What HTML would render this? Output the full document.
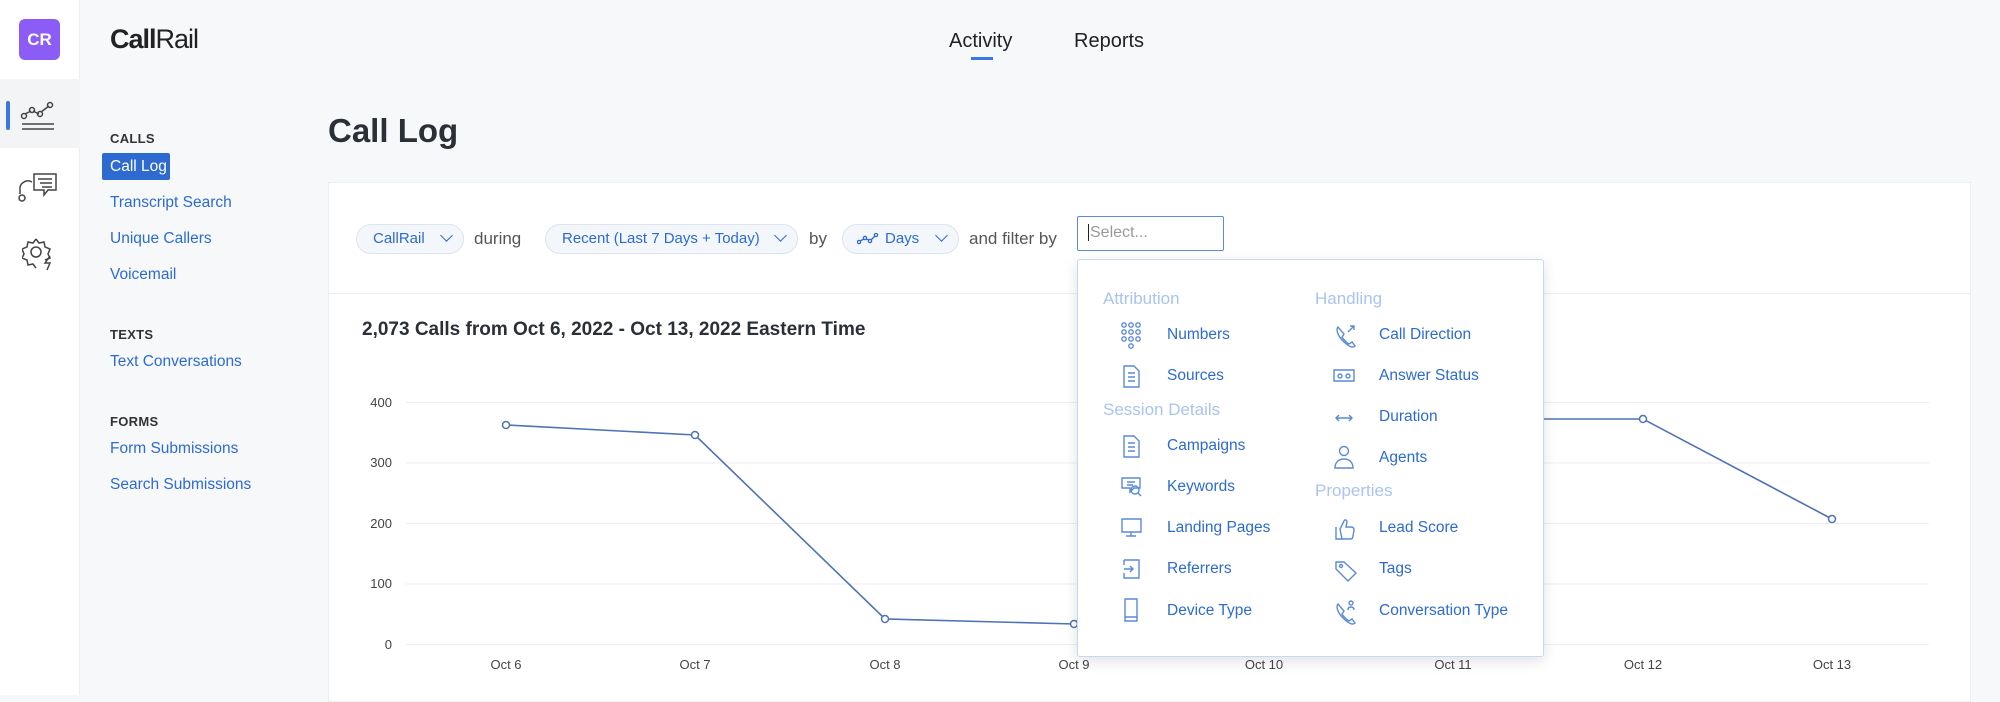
<!DOCTYPE html>
<html><head><meta charset="utf-8"><style>
*{margin:0;padding:0;box-sizing:border-box}
body{width:2000px;height:695px;overflow:hidden;background:#f7f8fa;font-family:"Liberation Sans",sans-serif;position:relative;color:#2b2f36}
.a{position:absolute;white-space:nowrap}
.nav{color:#2d6bd0;font-size:15.5px}
.sec{font-size:13px;font-weight:bold;color:#333;letter-spacing:.3px}
.pill{position:absolute;height:30px;border:1px solid #dde4ee;border-radius:15px;background:#f3f6fb;color:#2d6bd0;font-size:15px;line-height:28px;padding-left:16px}
.pill i{position:absolute;right:12px;top:6px;width:9px;height:9px;border-right:1.5px solid #2d6bd0;border-bottom:1.5px solid #2d6bd0;transform:rotate(45deg)}
.dd{color:#2d6bd0;font-size:15.5px}
.hd{color:#a9c4ee;font-size:17px}
</style></head><body>
<div class="a" style="left:0;top:0;width:80px;height:695px;background:#fff;border-right:1px solid #eceef2"></div>
<div class="a" style="left:19px;top:19px;width:41px;height:41px;background:#8b5cf6;border-radius:6px;color:#fff;font-size:17px;font-weight:bold;line-height:41px;text-align:center">CR</div>
<div class="a" style="left:0;top:79px;width:80px;height:69px;background:#f3f4f6"></div>
<div class="a" style="left:6px;top:101px;width:4px;height:29px;background:#3a78e0;border-radius:2px"></div>
<svg class="a" style="left:20px;top:100px" width="36" height="36" fill="none" stroke="#444" stroke-width="1.5"><circle cx="4" cy="16" r="2.5"/><circle cx="12" cy="10" r="2.5"/><circle cx="20" cy="14" r="2.5"/><circle cx="30" cy="5" r="2.5"/><path d="M5 14l6-3M13 11l6 3M21 12l8-6"/><path d="M2 24h32M2 29h32"/></svg>
<svg class="a" style="left:18px;top:168px" width="40" height="36" fill="none" stroke="#444" stroke-width="1.5"><path d="M16 6h22v16h-8l-4 5v-5h-10z"/><path d="M20 11h14M22 15h12M24 19h10"/><path d="M14 14a8 8 0 0 0-12 8v4"/><circle cx="4" cy="30" r="3"/></svg>
<svg class="a" style="left:22px;top:236px" width="36" height="36" fill="none" stroke="#444" stroke-width="1.5"><circle cx="14" cy="16" r="5"/><path d="M14 3l3 4 5-1 1 5 5 2-2 5 2 4-5 2M14 3l-3 4-5-1-1 5-5 2 2 5-2 4 5 2 1 5 5-1 3 4"/><path d="M28 20l-5 7h5l-3 7"/></svg>
<div class="a" style="left:110px;top:24px;font-size:27px;color:#222;letter-spacing:-1px"><b>Call</b>Rail</div>
<div class="a" style="left:949px;top:30px;font-size:20px;color:#222">Activity</div>
<div class="a" style="left:971px;top:57px;width:22px;height:3px;background:#3a78e0"></div>
<div class="a" style="left:1074px;top:30px;font-size:20px;color:#222">Reports</div>
<div class="a sec" style="left:110px;top:131px">CALLS</div>
<div class="a" style="left:102px;top:153px;width:68px;height:27px;background:#2d6bd0;border-radius:2px;color:#fff;font-size:15.5px;line-height:27px;padding-left:8px">Call Log</div>
<div class="a nav" style="left:110px;top:194px">Transcript Search</div>
<div class="a nav" style="left:110px;top:230px">Unique Callers</div>
<div class="a nav" style="left:110px;top:266px">Voicemail</div>
<div class="a sec" style="left:110px;top:327px">TEXTS</div>
<div class="a nav" style="left:110px;top:353px">Text Conversations</div>
<div class="a sec" style="left:110px;top:414px">FORMS</div>
<div class="a nav" style="left:110px;top:440px">Form Submissions</div>
<div class="a nav" style="left:110px;top:476px">Search Submissions</div>
<div class="a" style="left:328px;top:112px;font-size:33px;font-weight:bold;color:#2b2f36">Call Log</div>
<div class="a" style="left:328px;top:182px;width:1643px;height:520px;background:#fff;border:1px solid #eceef2"></div>
<div class="a" style="left:328px;top:293px;width:1643px;height:1px;background:#eceef2"></div>
<div class="pill" style="left:356px;top:224px;width:108px">CallRail<i></i></div>
<div class="a" style="left:474px;top:229px;font-size:17px;color:#555">during</div>
<div class="pill" style="left:545px;top:224px;width:253px">Recent (Last 7 Days + Today)<i></i></div>
<div class="a" style="left:809px;top:229px;font-size:17px;color:#555">by</div>
<div class="pill" style="left:842px;top:224px;width:117px;padding-left:42px"><svg style="position:absolute;left:14px;top:8px" width="22" height="12" fill="none" stroke="#2d6bd0" stroke-width="1.3"><circle cx="2" cy="9" r="1.6"/><circle cx="8" cy="5" r="1.6"/><circle cx="13" cy="8" r="1.6"/><circle cx="19" cy="2" r="1.6"/><path d="M3 8l4-2M9 6l3 1M14 7l4-4"/></svg>Days<i></i></div>
<div class="a" style="left:969px;top:229px;font-size:17px;color:#555">and filter by</div>
<div class="a" style="left:1077px;top:216px;width:147px;height:35px;border:1.5px solid #5b8ad8;border-radius:2px;font-size:16px;color:#999;line-height:32px;padding-left:10px"><span style="border-left:1.5px solid #222;padding-left:1px">Select...</span></div>
<div class="a" style="left:362px;top:319px;font-size:19px;font-weight:bold;color:#2b2f36">2,073 Calls from Oct 6, 2022 - Oct 13, 2022 Eastern Time</div>
<svg class="a" style="left:0;top:0" width="2000" height="695">
<g stroke="#eceef2" stroke-width="1"><path d="M406 402.5H1929M406 463H1929M406 523.5H1929M406 584H1929M406 644.5H1929"/></g>
<g font-family="Liberation Sans" font-size="13" fill="#444" text-anchor="end"><text x="392" y="407">400</text><text x="392" y="467">300</text><text x="392" y="528">200</text><text x="392" y="588">100</text><text x="392" y="649">0</text></g>
<g font-family="Liberation Sans" font-size="13" fill="#444" text-anchor="middle"><text x="506" y="669">Oct 6</text><text x="695" y="669">Oct 7</text><text x="885" y="669">Oct 8</text><text x="1074" y="669">Oct 9</text><text x="1264" y="669">Oct 10</text><text x="1453" y="669">Oct 11</text><text x="1643" y="669">Oct 12</text><text x="1832" y="669">Oct 13</text></g>
<polyline fill="none" stroke="#4e72b5" stroke-width="1.6" points="506,425 695,435 885,619 1074,624 1264,437 1453,419 1643,419 1832,519"/>
<g fill="#fff" stroke="#4e72b5" stroke-width="1.5"><circle cx="506" cy="425" r="3.5"/><circle cx="695" cy="435" r="3.5"/><circle cx="885" cy="619" r="3.5"/><circle cx="1074" cy="624" r="3.5"/><circle cx="1643" cy="419" r="3.5"/><circle cx="1832" cy="519" r="3.5"/></g>
</svg>
<div class="a" style="left:1077px;top:259px;width:467px;height:398px;background:#fff;border:1.5px solid #c6d8f2;border-radius:3px;box-shadow:0 4px 14px rgba(0,0,0,.12)"></div>
<div class="a hd" style="left:1103px;top:289px">Attribution</div>
<div class="a hd" style="left:1103px;top:400px">Session Details</div>
<div class="a hd" style="left:1315px;top:289px">Handling</div>
<div class="a hd" style="left:1315px;top:481px">Properties</div>
<div class="a dd" style="left:1167px;top:326px">Numbers</div>
<div class="a dd" style="left:1167px;top:367px">Sources</div>
<div class="a dd" style="left:1167px;top:437px">Campaigns</div>
<div class="a dd" style="left:1167px;top:478px">Keywords</div>
<div class="a dd" style="left:1167px;top:519px">Landing Pages</div>
<div class="a dd" style="left:1167px;top:560px">Referrers</div>
<div class="a dd" style="left:1167px;top:602px">Device Type</div>
<div class="a dd" style="left:1379px;top:326px">Call Direction</div>
<div class="a dd" style="left:1379px;top:367px">Answer Status</div>
<div class="a dd" style="left:1379px;top:408px">Duration</div>
<div class="a dd" style="left:1379px;top:449px">Agents</div>
<div class="a dd" style="left:1379px;top:519px">Lead Score</div>
<div class="a dd" style="left:1379px;top:560px">Tags</div>
<div class="a dd" style="left:1379px;top:602px">Conversation Type</div>
<svg class="a" style="left:0;top:0" width="2000" height="695" fill="none" stroke="#5b8ad8" stroke-width="1.4">
<g><circle cx="1124" cy="325" r="2.2"/><circle cx="1131" cy="325" r="2.2"/><circle cx="1138" cy="325" r="2.2"/><circle cx="1124" cy="332" r="2.2"/><circle cx="1131" cy="332" r="2.2"/><circle cx="1138" cy="332" r="2.2"/><circle cx="1124" cy="339" r="2.2"/><circle cx="1131" cy="339" r="2.2"/><circle cx="1138" cy="339" r="2.2"/><circle cx="1131" cy="346" r="2.2"/></g>
<path d="M1124 366h10l5 5v16h-15zM1128 373h7M1128 377h7M1128 381h7"/>
<path d="M1124 436h10l5 5v16h-15zM1128 443h7M1128 447h7M1128 451h7"/>
<path d="M1122 478h18v10h-6l-4 4v-4h-8zM1127 482h8M1127 485h6"/><circle cx="1135" cy="490" r="4"/><path d="M1138 493l3 3"/>
<path d="M1122 519h19v13h-19zM1131 532v4M1126 536h10"/>
<path d="M1124 560h15v18h-15v-5M1124 565v-5M1124 569h9M1130 566l3 3-3 3"/>
<path d="M1125 599h12v22h-12zM1125 617h12"/>
<path d="M1338 327c-2 2-1 8 5 14s10 7 12 5l-3-4-3 2c-2-1-6-5-7-7l2-3zM1348 332l6-6M1350 326h4v4"/>
<path d="M1334 370h20v11h-20z"/><circle cx="1340" cy="376" r="2"/><circle cx="1348" cy="376" r="2"/>
<path d="M1336 418h16M1339 415l-3 3 3 3M1349 415l3 3-3 3"/>
<circle cx="1344" cy="451" r="4.5"/><path d="M1335 468c0-6 4-9 9-9s9 3 9 9z"/>
<path d="M1336 527v12h6M1342 539h8c2 0 3-1 3-3l1-6c0-2-1-3-3-3h-5l1-5c0-2-2-3-3-1l-4 8z"/>
<path d="M1336 562v7l12 12 8-8-12-11z"/><circle cx="1341" cy="566" r="1.5"/>
<path d="M1338 604c-2 2-1 8 5 14s10 7 12 5l-3-4-3 2c-2-1-6-5-7-7l2-3z"/><circle cx="1351" cy="603" r="2"/><path d="M1348 610c0-2 1-3 3-3s3 1 3 3"/>
</svg>
</body></html>
